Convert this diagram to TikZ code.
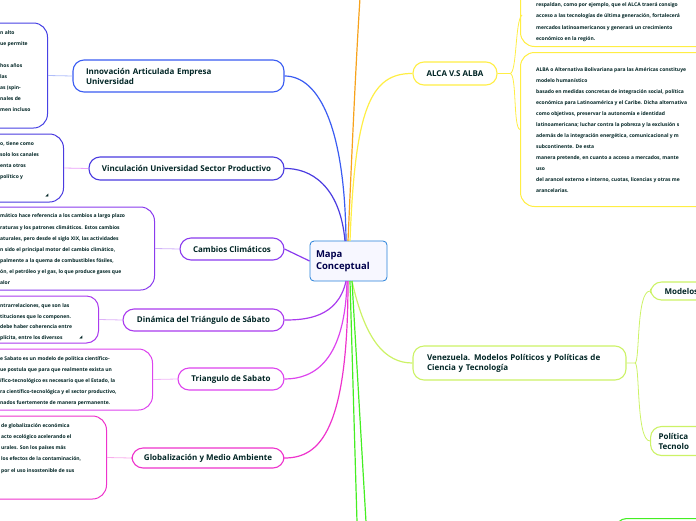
\documentclass[tikz,border=0pt]{standalone}
\usepackage{fontspec}
\setmainfont{Open Sans}
\newfontfamily\dvfont{DejaVu Sans}
\begin{document}
\begin{tikzpicture}[x=1pt,y=-1pt,
  txt/.style={text=black!35!teal!45!black},
  title/.style={txt,draw,line width=1.1pt,rounded corners=11pt,fill=white,font=\fontsize{8}{10}\selectfont\bfseries,align=left,inner sep=0pt},
  detail/.style={draw,line width=1pt,rounded corners=14pt,fill=white,inner sep=0pt},
  dl/.style={txt,anchor=west,inner sep=0pt,font=\fontsize{5}{5}\selectfont\bfseries},
  link/.style={line width=1.2pt},
  sub/.style={line width=0.8pt}]
\useasboundingbox (0,0) rectangle (696,520);
\definecolor{cA}{HTML}{3A5CF2}\definecolor{cB}{HTML}{4A3BE0}
\definecolor{cC}{HTML}{8A3BEE}\definecolor{cD}{HTML}{AA3BEE}
\definecolor{cE}{HTML}{DD44EE}\definecolor{cF}{HTML}{EE33CC}
\definecolor{cY}{HTML}{FFEE44}\definecolor{cL}{HTML}{CCF266}
\definecolor{cG}{HTML}{44EE22}\definecolor{cO}{HTML}{F7A21B}

% central
\node[draw=blue!50!cyan!70!gray,line width=0.8pt,fill=blue!3,rounded corners=4pt,minimum width=77pt,minimum height=40pt,
  text=blue!30!black,font=\fontsize{9.5}{12}\selectfont\bfseries,align=left,text width=65pt] (c) at (348.5,261) {Mapa\\Conceptual};

% left titles
\node[title,draw=cA,minimum width=211pt,minimum height=32pt,text width=185pt] (t1) at (178.5,76) {Innovación Articulada Empresa\\Universidad};
\node[title,draw=cB,minimum width=195pt,minimum height=23pt,align=center] (t2) at (186.5,168.5) {Vinculación Universidad Sector Productivo};
\node[title,draw=cC,minimum width=104pt,minimum height=22pt,align=center] (t3) at (232,249) {Cambios Climáticos};
\node[title,draw=cD,minimum width=161pt,minimum height=22pt,align=center] (t4) at (203.5,320) {Dinámica del Triángulo de Sábato};
\node[title,draw=cE,minimum width=106pt,minimum height=22pt,align=center] (t5) at (231,379) {Triangulo de Sabato};
\node[title,draw=cF,minimum width=152pt,minimum height=20pt,align=center] (t6) at (208,458) {Globalización y Medio Ambiente};

% right titles
\node[title,draw=cY,minimum width=84pt,minimum height=23pt,align=center] (t7) at (455,73.5) {ALCA V.S ALBA};
\node[title,draw=cL,minimum width=213pt,minimum height=34pt,text width=185pt] (t8) at (519.5,363) {Venezuela. Modelos Políticos y Políticas de\\Ciencia y Tecnología};
\node[title,draw=cL,anchor=west,minimum width=60pt,minimum height=18pt,text width=52pt] (t9) at (650,291) {\hspace*{10pt}Modelos};
\node[title,draw=cL,anchor=west,minimum width=60pt,minimum height=29pt,text width=52pt] (t10) at (650,441) {\hspace*{4pt}Política\\\hspace*{4pt}Tecnolo};
\node[title,draw=cG,anchor=north west,minimum width=100pt,minimum height=20pt] (t11) at (615,518) {};

% connectors from center
\draw[link,cO] (348,241) .. controls (352,150) and (356,60) .. (360,-2);
\draw[link,cA] (346,241) .. controls (345,130) and (320,76) .. (t1.east);
\draw[link,cB] (345,241) .. controls (340,185) and (310,168) .. (t2.east);
\draw[link,cC] (c.west) -- (t3.east);
\draw[link,cD] (346,281) .. controls (338,318) and (305,320) .. (t4.east);
\draw[link,cE] (347,281) .. controls (345,360) and (315,379) .. (t5.east);
\draw[link,cF] (348,281) .. controls (348,430) and (320,458) .. (t6.east);
\draw[link,cY] (350,241) .. controls (355,110) and (370,73) .. (t7.west);
\draw[link,cL] (352,281) .. controls (365,340) and (385,363) .. (t8.west);
\draw[link,cG] (350,281) -- (357,522);
\draw[link,cG] (352,281) -- (366,522);

% left detail boxes
\node[detail,draw=cB!80!cA,anchor=east,minimum width=80pt,minimum height=105pt] (d1) at (48,75.5) {};
\node[detail,draw=cB,anchor=east,minimum width=90pt,minimum height=68pt] (d2) at (64,168) {};
\node[detail,draw=cC,anchor=east,minimum width=180pt,minimum height=83pt] (d3) at (155,248.5) {};
\node[detail,draw=cD,anchor=east,minimum width=120pt,minimum height=47pt,rounded corners=12pt] (d4) at (99,319.5) {};
\node[detail,draw=cE,anchor=east,minimum width=180pt,minimum height=61pt] (d5) at (153,379.5) {};
\node[detail,draw=cF,anchor=east,minimum width=130pt,minimum height=83pt] (d6) at (107,457.5) {};
\draw[sub,cA!40] (t1.west) -- (d1.east);
\draw[sub,cB!30!magenta!40] (t2.west) -- (d2.east);
\draw[sub,cC!40] (t3.west) -- (d3.east);
\draw[sub,cD!40] (t4.west) -- (d4.east);
\draw[sub,cE!40] (t5.west) -- (d5.east);
\draw[sub,cF!40] (t6.west) -- (d6.east);

% right detail boxes
\node[detail,draw=cY,anchor=north west,minimum width=200pt,minimum height=70pt] (d7) at (520,-24) {};
\node[detail,draw=cY,anchor=north west,minimum width=200pt,minimum height=154pt] (d8) at (520,52) {};
\draw[sub,cY] (t7.east) -- (510,73.5) .. controls (517,73.5) and (515,20) .. (522,15);
\draw[sub,cY] (510,73.5) .. controls (517,73.5) and (513,128) .. (d8.west);
\draw[sub,cL] (t8.east) -- (635,363) .. controls (640,363) and (636,291) .. (t9.west);
\draw[sub,cL] (635,363) .. controls (640,363) and (636,441) .. (t10.west);

% detail texts
\foreach \y/\s in {33/n alto,44/ue permite,66/hos años,,77/las,88/as (spin-,99/nales de,110/men incluso}
  \node[dl] at (0,\y) {\s};
\foreach \y/\s in {144/{o, tiene como},155/solo los canales,166/enta otros,177/político y}
  \node[dl] at (0,\y) {\s};
\node[txt,font=\dvfont\fontsize{4}{4}\selectfont,inner sep=0pt] (ic) at (47,195) {◢};
\foreach \y/\s in {216/mático hace referencia a los cambios a largo plazo,228/raturas y los patrones climáticos. Estos cambios,239/{aturales, pero desde el siglo XIX, las actividades},250/{n sido el principal motor del cambio climático,},261/{palmente a la quema de combustibles fósiles,},272/{ón, el petróleo y el gas, lo que produce gases que},283/alor}
  \node[dl] at (0,\y) {\s};
\foreach \y/\s in {306/{ntrarrelaciones, que son las},317/tituciones que lo componen.,327/debe haber coherencia entre}
  \node[dl] at (0,\y) {\s};
\begin{scope}\clip (0,334) rectangle (100,340.5);
\node[dl] at (0,338) {plícita, entre los diversos};\end{scope}
\node[txt,font=\dvfont\fontsize{4}{4}\selectfont,inner sep=0pt] (ic2) at (81,337) {◢};
\foreach \y/\s in {359/e Sabato es un modelo de política científico-,370/ue postula que para que realmente exista un,381/{ífico-tecnológico es necesario que el Estado, la},392/{ra científico-tecnológica y el sector productivo,},403/nados fuertemente de manera permanente.}
  \node[dl] at (0,\y) {\s};
\foreach \y/\s in {426/de globalización económica,437/acto ecológico acelerando el,448/urales. Son los países más,459/{los efectos de la contaminación,},471/por el uso insostenible de sus}
  \node[dl] at (1,\y) {\s};
\foreach \y/\s in {5/{respaldan, como por ejemplo, que el ALCA traerá consigo},16/{acceso a las tecnologías de última generación, fortalecerá},28/mercados latinoamericanos y generará un crecimiento,39/económico en la región.}
  \node[dl] at (536,\y) {\s};
\foreach \y/\s in {70/ALBA o Alternativa Bolivariana para las Américas constituye,81/modelo humanístico,92/{ basado en medidas concretas de integración social, política},103/económica para Latinoamérica y el Caribe. Dicha alternativa,114/{como objetivos, preservar la autonomía e identidad},125/latinoamericana; luchar contra la pobreza y la exclusión s,136/{además de la integración energética, comunicacional y m},147/subcontinente. De esta,158/{manera pretende, en cuanto a acceso a mercados, mante},169/uso,180/{del arancel externo e interno, cuotas, licencias y otras me},191/arancelarias.}
  \node[dl] at (536,\y) {\s};
\end{tikzpicture}
\end{document}
